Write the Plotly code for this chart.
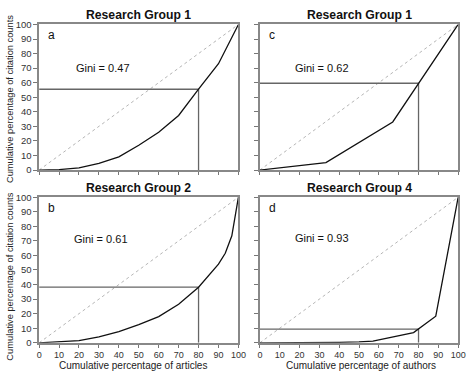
import plotly.graph_objects as go

# Data
a_x = [0, 10, 20, 30, 40, 50, 60, 70, 80, 90, 100]
a_y = [0, 0.3, 1.5, 4.5, 9, 17, 26, 37.5, 55.5, 73, 100]
a_ref = 55.5

c_x = [0, 33.3, 67, 80, 100]
c_y = [0, 5.1, 33, 59.6, 100]
c_ref = 59.6

b_x = [0, 10, 20, 30, 40, 50, 60, 70, 80, 90, 93.4, 96.7, 100]
b_y = [0, 0.5, 1.5, 4, 7.7, 12.5, 18, 26.5, 38.2, 54, 61.5, 73.5, 100]
b_ref = 38.2

d_x = [0, 20, 40, 50, 57, 77.5, 80, 88.7, 100]
d_y = [0, 0, 0.3, 0.6, 1.1, 7, 9.4, 18.3, 100]
d_ref = 9.4

panels = [
    dict(x=a_x, y=a_y, ref=a_ref, letter="a", gini="Gini = 0.47", gx=17.5, gy=70, title="Research Group 1"),
    dict(x=c_x, y=c_y, ref=c_ref, letter="c", gini="Gini = 0.62", gx=16.5, gy=70, title="Research Group 1"),
    dict(x=b_x, y=b_y, ref=b_ref, letter="b", gini="Gini = 0.61", gx=16.5, gy=71.4, title="Research Group 2"),
    dict(x=d_x, y=d_y, ref=d_ref, letter="d", gini="Gini = 0.93", gx=16.5, gy=72, title="Research Group 4"),
]
ticks = [0, 10, 20, 30, 40, 50, 60, 70, 80, 90, 100]

W, H = 474, 374
# pixel boxes (left, right, top, bottom)
boxes = [(37, 241, 19, 169), (263, 466, 19, 169), (37, 241, 197, 347), (263, 466, 197, 347)]

fig = go.Figure()
layout = dict(width=W, height=H, margin=dict(l=0, r=0, t=0, b=0),
              paper_bgcolor="white", plot_bgcolor="white", showlegend=False,
              font=dict(family="Liberation Sans, Arial, sans-serif", color="#222"))
annotations = []

for i, (p, box) in enumerate(zip(panels, boxes)):
    n = i + 1
    xa = "x" if n == 1 else f"x{n}"
    ya = "y" if n == 1 else f"y{n}"
    xkey = "xaxis" if n == 1 else f"xaxis{n}"
    ykey = "yaxis" if n == 1 else f"yaxis{n}"
    l, r, t, b = box
    show_x = i >= 2
    show_y = i % 2 == 0
    layout[xkey] = dict(domain=[l / W, r / W], range=[0, 100], anchor=ya,
                        tickvals=ticks, showticklabels=show_x, ticks="outside", ticklen=3,
                        tickcolor="#777", showline=True, linecolor="#888", linewidth=1.5,
                        mirror=True, showgrid=False, zeroline=False,
                        tickfont=dict(size=9, color="#333"))
    layout[ykey] = dict(domain=[(H - b) / H, (H - t) / H], range=[0, 100], anchor=xa,
                        tickvals=ticks, showticklabels=show_y, ticks="outside", ticklen=4,
                        tickcolor="#777", showline=True, linecolor="#888", linewidth=1.5,
                        mirror=True, showgrid=False, zeroline=False,
                        tickfont=dict(size=9.5, color="#333"))
    # diagonal
    fig.add_trace(go.Scatter(x=[0, 100], y=[0, 100], mode="lines", xaxis=xa, yaxis=ya,
                             line=dict(color="#b5b5b5", width=1, dash="dot"), hoverinfo="skip"))
    # reference lines at 80%
    fig.add_trace(go.Scatter(x=[0, 80, 80], y=[p["ref"], p["ref"], 0], mode="lines", xaxis=xa, yaxis=ya,
                             line=dict(color="#666", width=1.3), hoverinfo="skip"))
    # Lorenz curve
    fig.add_trace(go.Scatter(x=p["x"], y=p["y"], mode="lines", xaxis=xa, yaxis=ya,
                             line=dict(color="#111", width=1.3)))
    annotations.append(dict(x=6.2, y=92.6, xref=xa, yref=ya, text=p["letter"], showarrow=False,
                            font=dict(size=12, color="#111"), xanchor="center", yanchor="middle"))
    annotations.append(dict(x=p["gx"], y=p["gy"], xref=xa, yref=ya, text=p["gini"], showarrow=False,
                            font=dict(size=11, color="#111"), xanchor="left", yanchor="middle"))
    annotations.append(dict(x=(l + r) / 2 / W, y=(H - (t - 10)) / H, xref="paper", yref="paper",
                            text="<b>" + p["title"] + "</b>", showarrow=False,
                            font=dict(size=12.2, color="#111"), xanchor="center", yanchor="middle"))

for yc in (96, 279):
    annotations.append(dict(x=7 / W, y=(H - yc) / H, xref="paper", yref="paper",
                            text="Cumulative percentage of citation counts", textangle=-90,
                            showarrow=False, font=dict(size=9.3, color="#222"),
                            xanchor="center", yanchor="middle"))
annotations.append(dict(x=133 / W, y=0, xref="paper", yref="paper",
                        text="Cumulative percentage of articles", showarrow=False,
                        font=dict(size=10, color="#222"), xanchor="center", yanchor="bottom",
                        borderpad=0, yshift=-3))
annotations.append(dict(x=367 / W, y=0, xref="paper", yref="paper",
                        text="Cumulative percentage of authors", showarrow=False,
                        font=dict(size=10, color="#222"), xanchor="center", yanchor="bottom",
                        borderpad=0, yshift=-3))

layout["annotations"] = annotations
fig.update_layout(**layout)
fig.write_html("out.html", config={"displayModeBar": False},
               post_script="document.body.style.margin='0';document.body.style.overflow='hidden';")
